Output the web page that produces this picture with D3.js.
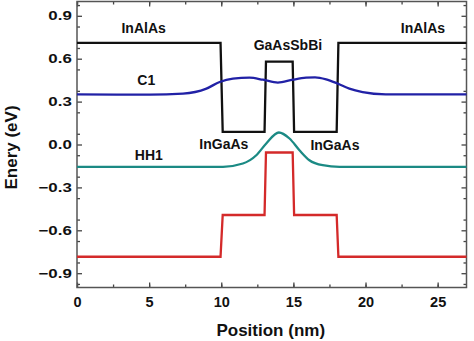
<!DOCTYPE html>
<html>
<head>
<meta charset="utf-8">
<title>Band diagram</title>
<script type="text/javascript" src="https://cdn.jsdelivr.net/npm/d3@7/dist/d3.min.js"></script>
<style>
  body { margin: 0; background: #fff; }
  text { font-family: "Liberation Sans", Arial, sans-serif; font-weight: bold; }
</style>
</head>
<body>
<div id="chart"></div>
<script type="text/javascript">

// band edges (step profiles), position in nm
var stepPos = [0, 9.95, 10.1, 13.0, 13.1, 14.95, 15.05, 18.0, 18.12, 27];
var cbEnergy = [0.71, 0.71, 0.088, 0.088, 0.58, 0.58, 0.088, 0.088, 0.71, 0.71];
var vbEnergy = [-0.785, -0.785, -0.493, -0.493, -0.056, -0.056, -0.493, -0.493, -0.785, -0.785];

// C1 electron wavefunction
var c1Pos = [0, 5.05, 7.35, 8.97, 9.89, 10.81, 11.96, 12.89, 13.92, 14.96, 15.88, 16.5, 17.27, 18.07, 18.88, 19.8, 21.4, 23, 27];
var c1Val = [0.35, 0.349, 0.356, 0.391, 0.437, 0.46, 0.467, 0.453, 0.433, 0.453, 0.467, 0.47, 0.456, 0.426, 0.391, 0.367, 0.351, 0.35, 0.35];

// HH1 hole wavefunction
var hhPos = [0, 7.8, 10.12, 11.5, 12.43, 13.12, 13.99, 14.73, 15.42, 16.11, 17.03, 18.2, 27];
var hhVal = [-0.157, -0.157, -0.156, -0.133, -0.075, 0.007, 0.084, 0.042, -0.04, -0.11, -0.145, -0.156, -0.157];

var xTicks = [0, 5, 10, 15, 20, 25];
var yTicks = [-0.9, -0.6, -0.3, 0.0, 0.3, 0.6, 0.9];

var labelText = ["InAlAs", "InAlAs", "C1", "HH1", "GaAsSbBi", "InGaAs", "InGaAs"];
var labelX = [4.62, 23.98, 4.8, 4.98, 14.62, 10.18, 17.88];
var labelY = [0.777, 0.777, 0.414, -0.105, 0.658, -0.028, -0.04];

var width = 474, height = 341;
var margin = {left: 77, right: 7.5, top: 1.5, bottom: 53.5};

var svg = d3.select("#chart").append("svg")
    .attr("width", width)
    .attr("height", height);

var x = d3.scaleLinear().domain([0, 27]).range([margin.left, width - margin.right]);
var y = d3.scaleLinear().domain([-1, 1]).range([height - margin.bottom, margin.top]);

var minorX = d3.range(0, 27.01, 2.5);
var minorY = d3.range(-0.975, 1, 0.15).map(function(v){ return Math.round(v*1000)/1000; });

function styleAxis(g) {
  g.select(".domain").remove();
  g.selectAll("line").attr("stroke", "#444").attr("stroke-width", 1.3);
  g.selectAll("text").attr("fill", "#111").style("font-size", "14px");
}

// minor ticks (inward)
svg.append("g").attr("transform", "translate(0," + y(-1) + ")")
  .call(d3.axisBottom(x).tickValues(minorX).tickSize(-3).tickFormat(""))
  .call(styleAxis);
svg.append("g").attr("transform", "translate(0," + y(1) + ")")
  .call(d3.axisTop(x).tickValues(minorX).tickSize(-3).tickFormat(""))
  .call(styleAxis);
svg.append("g").attr("transform", "translate(" + x(0) + ",0)")
  .call(d3.axisLeft(y).tickValues(minorY.filter(function(v){return v > -1;})).tickSize(-3).tickFormat(""))
  .call(styleAxis);
svg.append("g").attr("transform", "translate(" + x(27) + ",0)")
  .call(d3.axisRight(y).tickValues(minorY.filter(function(v){return v > -1;})).tickSize(-3).tickFormat(""))
  .call(styleAxis);

// major ticks
svg.append("g").attr("transform", "translate(0," + y(-1) + ")")
  .call(d3.axisBottom(x).tickValues(xTicks).tickSize(-5).tickPadding(9).tickFormat(d3.format("d")))
  .call(styleAxis)
  .selectAll("text").style("font-size", "14.5px");
svg.append("g").attr("transform", "translate(0," + y(1) + ")")
  .call(d3.axisTop(x).tickValues(xTicks).tickSize(-5).tickFormat(""))
  .call(styleAxis);
svg.append("g").attr("transform", "translate(" + x(0) + ",0)")
  .call(d3.axisLeft(y).tickValues(yTicks).tickSize(-5).tickPadding(4).tickFormat(d3.format(".1f")))
  .call(styleAxis)
  .selectAll("text")
    .style("font-size", "13px")
    .attr("transform", "scale(1.3,1)");
svg.append("g").attr("transform", "translate(" + x(27) + ",0)")
  .call(d3.axisRight(y).tickValues(yTicks).tickSize(-5).tickFormat(""))
  .call(styleAxis);

// frame
svg.append("rect")
  .attr("x", x(0)).attr("y", y(1))
  .attr("width", x(27) - x(0)).attr("height", y(-1) - y(1))
  .attr("fill", "none").attr("stroke", "#555").attr("stroke-width", 1.5);

// curves
var stepLine = d3.line().x(function(d){ return x(d[0]); }).y(function(d){ return y(d[1]); });
var smoothLine = d3.line().x(function(d){ return x(d[0]); }).y(function(d){ return y(d[1]); })
  .curve(d3.curveMonotoneX);

var series = [
  {pos: stepPos, val: cbEnergy, color: "#111111", gen: stepLine},
  {pos: c1Pos, val: c1Val, color: "#2121a6", gen: smoothLine},
  {pos: hhPos, val: hhVal, color: "#1b8a84", gen: smoothLine},
  {pos: stepPos, val: vbEnergy, color: "#d42a2a", gen: stepLine}
];

series.forEach(function(s) {
  svg.append("path")
    .datum(d3.zip(s.pos, s.val))
    .attr("fill", "none")
    .attr("stroke", s.color)
    .attr("stroke-width", 2.3)
    .attr("stroke-linejoin", "miter")
    .attr("d", s.gen);
});

// layer labels
svg.selectAll("text.lab")
  .data(d3.zip(labelText, labelX, labelY))
  .enter().append("text")
  .attr("class", "lab")
  .attr("x", function(d){ return x(d[1]); })
  .attr("y", function(d){ return y(d[2]); })
  .attr("text-anchor", "middle")
  .attr("fill", "#111")
  .style("font-size", "14px")
  .text(function(d){ return d[0]; });

// axis titles
svg.append("text")
  .attr("x", (x(0) + x(27)) / 2 - 1)
  .attr("y", 336)
  .attr("text-anchor", "middle")
  .attr("fill", "#111")
  .style("font-size", "17px")
  .text("Position (nm)");

svg.append("text")
  .attr("transform", "translate(17," + (y(0) + 3) + ") rotate(-90)")
  .attr("text-anchor", "middle")
  .attr("fill", "#111")
  .style("font-size", "17px")
  .text("Enery (eV)");

</script>
</body>
</html>
